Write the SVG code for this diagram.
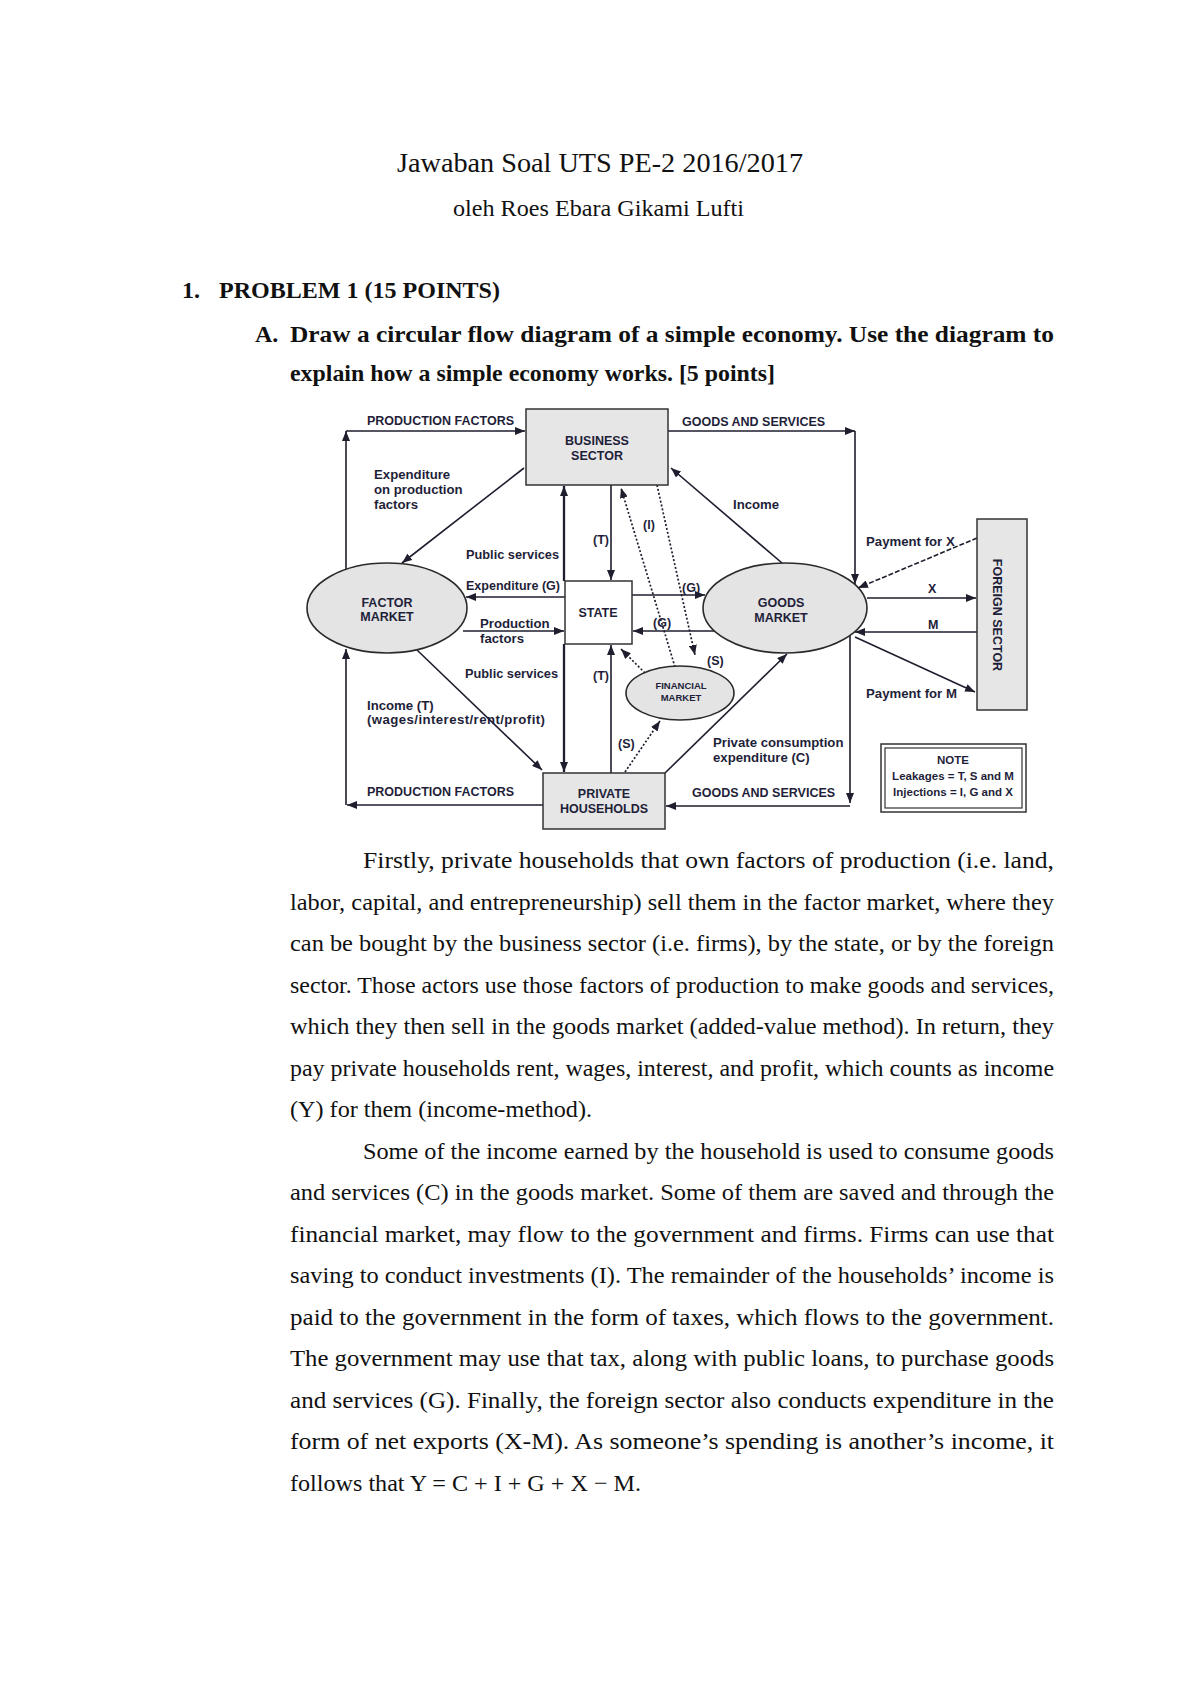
<svg xmlns="http://www.w3.org/2000/svg" width="1200" height="1696" viewBox="0 0 1200 1696">
<defs>
<marker id="ah" markerUnits="userSpaceOnUse" markerWidth="10" markerHeight="8" refX="10" refY="4" orient="auto">
<path d="M0,0 L10,4 L0,8 z" fill="#1e1e2e"/>
</marker>
<style>
.ln{stroke:#1e1e2e;stroke-width:1.6;fill:none;marker-end:url(#ah)}
.thk{stroke-width:2.3}
.dot{stroke-dasharray:2 2;stroke-width:1.7}
.dash{stroke-dasharray:5 2}
.box{fill:#e6e6e6;stroke:#333;stroke-width:1.5}
.ell{fill:#e4e4e4;stroke:#2a2a2a;stroke-width:1.6}
.lbl{font-family:"Liberation Sans",Arial,sans-serif;font-weight:bold;font-size:12.5px;fill:#1f1f3a}
.lc{font-size:13.2px}
.sm{font-size:9.5px}
.nt{font-size:11.5px}
.ser{font-family:"Liberation Serif","Times New Roman",serif;fill:#111}
.body{font-size:24px}
.b{font-weight:bold}
</style>
</defs>
<rect width="1200" height="1696" fill="#fff"/>

<g id="header">
<text class="ser" x="397" y="172" font-size="28" textLength="406" lengthAdjust="spacingAndGlyphs">Jawaban Soal UTS PE-2 2016/2017</text>
<text class="ser" x="453" y="216" font-size="24" textLength="291" lengthAdjust="spacingAndGlyphs">oleh Roes Ebara Gikami Lufti</text>
<text class="ser b" x="182" y="298" font-size="24">1.</text>
<text class="ser b" x="219" y="298" font-size="24" textLength="281" lengthAdjust="spacingAndGlyphs">PROBLEM 1 (15 POINTS)</text>
<text class="ser b" x="255" y="342" font-size="24">A.</text>
<text class="ser b" x="290" y="342" font-size="24" textLength="764" lengthAdjust="spacingAndGlyphs">Draw a circular flow diagram of a simple economy. Use the diagram to</text>
<text class="ser b" x="290" y="381" font-size="24" textLength="485" lengthAdjust="spacingAndGlyphs">explain how a simple economy works. [5 points]</text>
</g>

<g id="connectors">
<path class="ln" d="M346,569 V431"/>
<path class="ln" d="M346,431 H525"/>
<path class="ln" d="M668,431 H855"/>
<path class="ln" d="M855,431 V584"/>
<path class="ln" d="M524,468 L402,563"/>
<path class="ln" d="M782,563 L671,468"/>
<path class="ln" d="M611,485 V580"/>
<path class="ln thk" d="M564,581 V486"/>
<path class="ln thk" d="M564,644 V772"/>
<path class="ln" d="M565,597 H466"/>
<path class="ln" d="M463,631 H564"/>
<path class="ln" d="M632,595 H705"/>
<path class="ln" d="M714,631 H633"/>
<path class="ln" d="M611,773 V645"/>
<path class="ln dot" d="M675,667 L621,488"/>
<path class="ln dot" d="M657,485 L695,655"/>
<path class="ln dot" d="M645,673 L621,649"/>
<path class="ln dot" d="M625,772 L660,721"/>
<path class="ln" d="M665,773 L787,654"/>
<path class="ln" d="M850,636 V803"/>
<path class="ln" d="M850,806 H666"/>
<path class="ln" d="M543,805 H347"/>
<path class="ln" d="M346,805 V649"/>
<path class="ln" d="M417,650 L542,770"/>
<path class="ln dash" d="M977,538 L858,588"/>
<path class="ln" d="M867,598 H976"/>
<path class="ln" d="M977,632 H855"/>
<path class="ln" d="M855,637 L975,692"/>
</g>

<g id="business-sector">
<rect class="box" x="526" y="409" width="142" height="76"/>
<text class="lbl" x="597" y="445" text-anchor="middle">BUSINESS</text>
<text class="lbl" x="597" y="460" text-anchor="middle">SECTOR</text>
</g>
<g id="state">
<rect x="565" y="581" width="67" height="63" fill="#fff" stroke="#333" stroke-width="1.5"/>
<text class="lbl" x="598" y="617" text-anchor="middle">STATE</text>
</g>
<g id="private-households">
<rect class="box" x="543" y="773" width="122" height="56"/>
<text class="lbl" x="604" y="798" text-anchor="middle">PRIVATE</text>
<text class="lbl" x="604" y="813" text-anchor="middle">HOUSEHOLDS</text>
</g>
<g id="foreign-sector">
<rect class="box" x="977" y="519" width="50" height="191"/>
<text class="lbl" x="993" y="615" text-anchor="middle" transform="rotate(90 993 615)">FOREIGN SECTOR</text>
</g>
<g id="factor-market">
<ellipse class="ell" cx="387" cy="608" rx="80" ry="45"/>
<text class="lbl" x="387" y="607" text-anchor="middle">FACTOR</text>
<text class="lbl" x="387" y="621" text-anchor="middle">MARKET</text>
</g>
<g id="goods-market">
<ellipse class="ell" cx="785" cy="608" rx="82" ry="45"/>
<text class="lbl" x="781" y="607" text-anchor="middle">GOODS</text>
<text class="lbl" x="781" y="622" text-anchor="middle">MARKET</text>
</g>
<g id="financial-market">
<ellipse class="ell" cx="680" cy="693" rx="54" ry="27"/>
<text class="lbl sm" x="681" y="689" text-anchor="middle">FINANCIAL</text>
<text class="lbl sm" x="681" y="701" text-anchor="middle">MARKET</text>
</g>
<g id="note">
<rect x="881" y="744" width="145" height="68" fill="#fff" stroke="#333" stroke-width="1.5"/>
<rect x="885" y="748" width="137" height="60" fill="none" stroke="#333" stroke-width="1.2"/>
<text class="lbl nt" x="953" y="764" text-anchor="middle">NOTE</text>
<text class="lbl nt" x="953" y="780" text-anchor="middle">Leakages = T, S and M</text>
<text class="lbl nt" x="953" y="796" text-anchor="middle">Injections = I, G and X</text>
</g>

<g id="labels">
<text class="lbl" x="367" y="425">PRODUCTION FACTORS</text>
<text class="lbl" x="682" y="426">GOODS AND SERVICES</text>
<text class="lbl lc" x="374" y="479">Expenditure</text>
<text class="lbl lc" x="374" y="494">on production</text>
<text class="lbl lc" x="374" y="509">factors</text>
<text class="lbl" x="593" y="544">(T)</text>
<text class="lbl" x="643" y="529">(I)</text>
<text class="lbl lc" x="733" y="509">Income</text>
<text class="lbl lc" x="466" y="559" textLength="93" lengthAdjust="spacingAndGlyphs">Public services</text>
<text class="lbl lc" x="466" y="590" textLength="94" lengthAdjust="spacingAndGlyphs">Expenditure (G)</text>
<text class="lbl" x="682" y="592">(G)</text>
<text class="lbl" x="653" y="627">(G)</text>
<text class="lbl lc" x="480" y="628">Production</text>
<text class="lbl lc" x="480" y="643">factors</text>
<text class="lbl lc" x="465" y="678" textLength="93" lengthAdjust="spacingAndGlyphs">Public services</text>
<text class="lbl" x="593" y="680">(T)</text>
<text class="lbl" x="707" y="665">(S)</text>
<text class="lbl" x="618" y="748">(S)</text>
<text class="lbl lc" x="367" y="710">Income (T)</text>
<text class="lbl lc" x="367" y="724" textLength="178" lengthAdjust="spacing">(wages/interest/rent/profit)</text>
<text class="lbl" x="367" y="796">PRODUCTION FACTORS</text>
<text class="lbl lc" x="866" y="546">Payment for X</text>
<text class="lbl" x="928" y="593">X</text>
<text class="lbl" x="928" y="629">M</text>
<text class="lbl lc" x="866" y="698">Payment for M</text>
<text class="lbl lc" x="713" y="747">Private consumption</text>
<text class="lbl lc" x="713" y="762">expenditure (C)</text>
<text class="lbl" x="692" y="797">GOODS AND SERVICES</text>
</g>

<g id="body-text" class="ser body">
<text x="363" y="868" textLength="691" lengthAdjust="spacingAndGlyphs">Firstly, private households that own factors of production (i.e. land,</text>
<text x="290" y="909.5" textLength="764" lengthAdjust="spacingAndGlyphs">labor, capital, and entrepreneurship) sell them in the factor market, where they</text>
<text x="290" y="951" textLength="764" lengthAdjust="spacingAndGlyphs">can be bought by the business sector (i.e. firms), by the state, or by the foreign</text>
<text x="290" y="992.5" textLength="764" lengthAdjust="spacingAndGlyphs">sector. Those actors use those factors of production to make goods and services,</text>
<text x="290" y="1034" textLength="764" lengthAdjust="spacingAndGlyphs">which they then sell in the goods market (added-value method). In return, they</text>
<text x="290" y="1075.5" textLength="764" lengthAdjust="spacingAndGlyphs">pay private households rent, wages, interest, and profit, which counts as income</text>
<text x="290" y="1117" textLength="302" lengthAdjust="spacingAndGlyphs">(Y) for them (income-method).</text>
<text x="363" y="1158.5" textLength="691" lengthAdjust="spacingAndGlyphs">Some of the income earned by the household is used to consume goods</text>
<text x="290" y="1200" textLength="764" lengthAdjust="spacingAndGlyphs">and services (C) in the goods market. Some of them are saved and through the</text>
<text x="290" y="1241.5" textLength="764" lengthAdjust="spacingAndGlyphs">financial market, may flow to the government and firms. Firms can use that</text>
<text x="290" y="1283" textLength="764" lengthAdjust="spacingAndGlyphs">saving to conduct investments (I). The remainder of the households’ income is</text>
<text x="290" y="1324.5" textLength="764" lengthAdjust="spacingAndGlyphs">paid to the government in the form of taxes, which flows to the government.</text>
<text x="290" y="1366" textLength="764" lengthAdjust="spacingAndGlyphs">The government may use that tax, along with public loans, to purchase goods</text>
<text x="290" y="1407.5" textLength="764" lengthAdjust="spacingAndGlyphs">and services (G). Finally, the foreign sector also conducts expenditure in the</text>
<text x="290" y="1449" textLength="764" lengthAdjust="spacingAndGlyphs">form of net exports (X-M). As someone’s spending is another’s income, it</text>
<text x="290" y="1490.5" textLength="351" lengthAdjust="spacingAndGlyphs">follows that Y = C + I + G + X − M.</text>
</g>
</svg>
